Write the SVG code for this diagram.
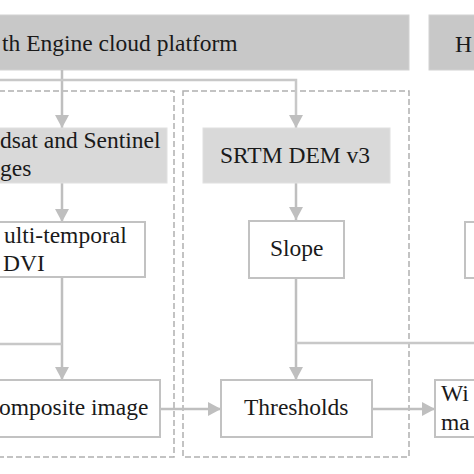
<svg xmlns="http://www.w3.org/2000/svg" width="474" height="474" viewBox="0 0 474 474">
<style>
text{font-family:"Liberation Serif","Times New Roman",serif;font-size:23.5px;fill:#1a1a1a}
.bar{fill:#c8c8c8;stroke:#d2d2d2;stroke-width:1}
.src{fill:#d9d9d9;stroke:#e0e0e0;stroke-width:1}
.box{fill:#ffffff;stroke:#c2c2c2;stroke-width:2}
.dash{fill:none;stroke:#b0b0b0;stroke-width:1.5;stroke-dasharray:6 3}
.c{fill:none;stroke:#bfbfbf;stroke-width:2.5}
.h{fill:none;stroke:#c8c8c8;stroke-width:2.5}
</style>
<defs>
<marker id="ah" markerUnits="userSpaceOnUse" markerWidth="14" markerHeight="14" refX="13" refY="7" orient="auto" viewBox="0 0 14 14">
<path d="M0,0 L13,7 L0,14 Z" fill="#bfbfbf"/>
</marker>
</defs>
<rect width="474" height="474" fill="#ffffff"/>
<g id="groups">
<rect class="dash" x="-10" y="91" width="184" height="366"/>
<rect class="dash" x="183" y="91" width="226" height="366"/>
</g>
<g id="gee">
<rect class="bar" x="-10" y="15" width="419" height="55"/>
<text x="2" y="51">th Engine cloud platform</text>
</g>
<g id="right-source">
<rect class="bar" x="429" y="15" width="60" height="55"/>
<text x="455" y="52">H</text>
</g>
<g id="connectors">
<line class="c" x1="62" y1="70" x2="62" y2="128" marker-end="url(#ah)"/>
<polyline class="h" points="0,80 296,80 296,128" marker-end="url(#ah)"/>
<line class="c" x1="62" y1="183" x2="62" y2="222" marker-end="url(#ah)"/>
<line class="c" x1="62" y1="277" x2="62" y2="380" marker-end="url(#ah)"/>
<line class="h" x1="0" y1="344" x2="62" y2="344"/>
<line class="c" x1="160" y1="409" x2="221" y2="409" marker-end="url(#ah)"/>
<line class="c" x1="296" y1="183" x2="296" y2="220" marker-end="url(#ah)"/>
<line class="c" x1="296" y1="278" x2="296" y2="380" marker-end="url(#ah)"/>
<line class="h" x1="296" y1="343" x2="474" y2="343"/>
<line class="c" x1="372" y1="409" x2="435" y2="409" marker-end="url(#ah)"/>
</g>
<g id="landsat">
<rect class="src" x="-10" y="128" width="177" height="55"/>
<text x="0" y="148">dsat and Sentinel</text>
<text x="0" y="176">ges</text>
</g>
<g id="srtm">
<rect class="src" x="203" y="128" width="187" height="55"/>
<text x="220" y="163">SRTM DEM v3</text>
</g>
<g id="ndvi">
<rect class="box" x="-10" y="222" width="155" height="55"/>
<text x="4" y="243">ulti-temporal</text>
<text x="3" y="271">DVI</text>
</g>
<g id="slope">
<rect class="box" x="249" y="221" width="95" height="57"/>
<text x="270" y="256">Slope</text>
</g>
<g id="right-box">
<rect class="box" x="465" y="222" width="20" height="56"/>
</g>
<g id="composite">
<rect class="box" x="-10" y="380" width="170" height="57"/>
<text x="-1" y="415">omposite image</text>
</g>
<g id="thresholds">
<rect class="box" x="221" y="380" width="151" height="57"/>
<text x="244" y="415">Thresholds</text>
</g>
<g id="map">
<rect class="box" x="435" y="380" width="50" height="57"/>
<text x="441" y="401">Wi</text>
<text x="441" y="430">ma</text>
</g>
</svg>
